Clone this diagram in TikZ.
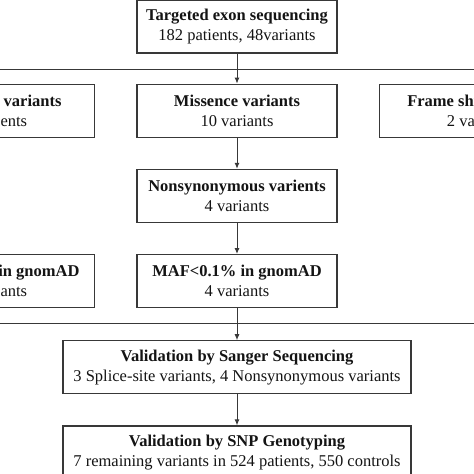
\documentclass[tikz,border=0pt]{standalone}
\usepackage{fontspec}
\setmainfont{Liberation Serif}
\usetikzlibrary{arrows.meta, positioning}
\tikzset{
  box/.style={rectangle, draw=black!78, line width=1.2pt, fill=white,
              minimum width=200pt, minimum height=53pt, align=center,
              inner sep=2pt, text=black!92,
              font=\fontsize{16.5}{20}\selectfont},
  widebox/.style={box, minimum width=348pt},
  arr/.style={-{Latex[length=6pt,width=5pt]}, line width=1pt, draw=black!78},
  bus/.style={line width=1pt, draw=black!78},
}

\begin{document}
\begin{tikzpicture}[x=1pt, y=-1pt, node distance=31pt and 41pt]
  \useasboundingbox (0,0) rectangle (474,474);
  \clip (0,0) rectangle (474,474);

  % Row 1: sequencing
  \node[box] (exon) at (237,26.5) {\textbf{Targeted exon sequencing}\\182 patients, 48variants};

  % Row 2: variant classes
  \node[box, below=30pt of exon]  (missense)   {\textbf{Missence variants}\\10 variants};
  \node[box, left=of missense]    (splice)     {\textbf{Splice-site variants}\\3 varients};
  \node[box, right=of missense]   (frameshift) {\textbf{Frame shift variants}\\2 variants};

  % Row 3-4: filtering
  \node[box, below=of missense] (nonsyn) {\textbf{Nonsynonymous varients}\\4 variants};
  \node[box, below=of nonsyn]   (maf)    {\textbf{MAF<0.1\% in gnomAD}\\4 variants};
  \node[box, left=of maf]       (mafsplice) {\textbf{MAF<0.1\% in gnomAD}\\3 variants};

  % Row 5-6: validation
  \node[widebox, below=32pt of maf] (sanger) {\textbf{Validation by Sanger Sequencing}\\3 Splice-site variants, 4 Nonsynonymous variants};
  \node[widebox, below=of sanger]   (snp)    {\textbf{Validation by SNP Genotyping}\\7 remaining variants in 524 patients, 550 controls};

  % Bus lines
  \path (exon.south) ++(0,16) coordinate (busA);
  \path (maf.south)  ++(0,15) coordinate (busB);

  % Arrows
  \draw[bus] (splice.north |- busA) -- (frameshift.north |- busA);
  \draw[arr] (busA -| splice)     -- (splice.north);
  \draw[arr] (busA -| frameshift) -- (frameshift.north);
  \draw[arr] (exon.south)     -- (missense.north);
  \draw[arr] (missense.south) -- (nonsyn.north);
  \draw[arr] (nonsyn.south)   -- (maf.north);
  \draw[arr] (splice.south)   -- (mafsplice.north);
  \draw[bus] (mafsplice.south) -- (mafsplice.south |- busB) -- (frameshift.south |- busB) -- (frameshift.south);
  \draw[arr] (maf.south)    -- (sanger.north);
  \draw[arr] (sanger.south) -- (snp.north);
\end{tikzpicture}
\end{document}
